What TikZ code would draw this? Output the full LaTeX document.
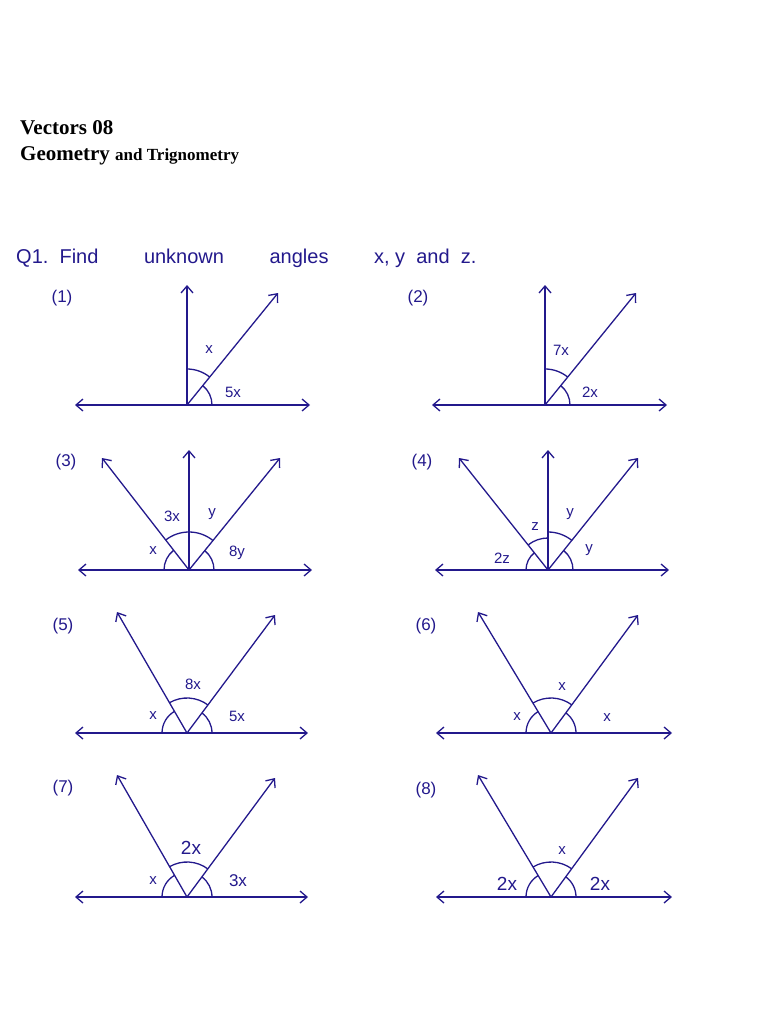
\documentclass[tikz,border=0pt]{standalone}
\usepackage{fontspec}
\setmainfont{Liberation Serif}
\newfontfamily\hand{Liberation Sans}
\usetikzlibrary{arrows.meta}
\definecolor{ink}{RGB}{35,25,140}
\tikzset{ln/.style={draw=ink,line width=1.3pt},
 ar/.style={ln,-{Straight Barb[length=7pt,width=12pt]}},
 both/.style={ln,{Straight Barb[length=7pt,width=12pt]}-{Straight Barb[length=7pt,width=12pt]}},
 lab/.style={text=ink,font=\hand\fontsize{15}{15}\selectfont,inner sep=0pt}}
\begin{document}
\begin{tikzpicture}[x=1pt,y=-1pt]
\useasboundingbox (0,0) rectangle (768,1024);
\node[anchor=west,inner sep=0pt,font=\bfseries\fontsize{21}{21}\selectfont] (t1) at (20,128) {Vectors 08};
\node[anchor=west,inner sep=0pt,font=\bfseries\fontsize{21}{21}\selectfont] (t2) at (20,156) {Geometry {\fontsize{17}{17}\selectfont and Trignometry}};
\node[anchor=west,inner sep=0pt,text=ink,font=\hand\fontsize{20}{20}\selectfont] (q) at (16,258) {Q1.\ \ Find\qquad\ unknown\qquad\ angles\qquad\ x,\ y\ \ and\ \ z.};
% numbers
\foreach \n/\x/\y in {1/62/298,2/418/298,3/66/462,4/422/462,5/63/626,6/426/626,7/63/788,8/426/790}
  \node[lab,font=\hand\fontsize{17}{17}\selectfont] (n\n) at (\x,\y) {(\n)};
% fig1
\coordinate (v1) at (187,405);
\draw[both] (75,405) -- (310,405);
\draw[ar] (v1) -- (187,285);
\draw[ar] (v1) -- (278,293);
\draw[ln] (v1) ++(0:25) arc (0:-51:25);
\draw[ln] (v1) ++(-51:36) arc (-51:-90:36);
\node[lab] (l1a) at (209,350) {x};
\node[lab] (l1b) at (233,392) {5x};
% fig2
\coordinate (v2) at (545,405);
\draw[both] (432,405) -- (667,405);
\draw[ar] (v2) -- (545,285);
\draw[ar] (v2) -- (636,293);
\draw[ln] (v2) ++(0:25) arc (0:-51:25);
\draw[ln] (v2) ++(-51:36) arc (-51:-90:36);
\node[lab] (l2a) at (561,350) {7x};
\node[lab] (l2b) at (590,392) {2x};
% fig3
\coordinate (v3) at (189,570);
\draw[both] (78,570) -- (312,570);
\draw[ar] (v3) -- (189,450);
\draw[ar] (v3) -- (280,458);
\draw[ar] (v3) -- (102,458);
\draw[ln] (v3) ++(0:25) arc (0:-51:25);
\draw[ln] (v3) ++(-51:38) arc (-51:-128:38);
\draw[ln] (v3) ++(-128:25) arc (-128:-180:25);
\node[lab] (l3a) at (172,516) {3x};
\node[lab] (l3b) at (212,514) {y};
\node[lab] (l3c) at (237,553) {8y};
\node[lab] (l3d) at (153,551) {x};
% fig4
\coordinate (v4) at (548,570);
\draw[both] (435,570) -- (669,570);
\draw[ar] (v4) -- (548,450);
\draw[ar] (v4) -- (638,458);
\draw[ar] (v4) -- (459,458);
\draw[ln] (v4) ++(0:25) arc (0:-51:25);
\draw[ln] (v4) ++(-51:38) arc (-51:-90:38);
\draw[ln] (v4) ++(-90:32) arc (-90:-128:32);
\draw[ln] (v4) ++(-128:22) arc (-128:-180:22);
\node[lab] (l4a) at (535,527) {z};
\node[lab] (l4b) at (570,514) {y};
\node[lab] (l4c) at (502,558) {2z};
\node[lab] (l4d) at (589,550) {y};
% fig5
\coordinate (v5) at (187,733);
\draw[both] (75,733) -- (308,733);
\draw[ar] (v5) -- (117,612);
\draw[ar] (v5) -- (275,615);
\draw[ln] (v5) ++(0:25) arc (0:-53:25);
\draw[ln] (v5) ++(-53:35) arc (-53:-120:35);
\draw[ln] (v5) ++(-120:25) arc (-120:-180:25);
\node[lab] (l5a) at (193,684) {8x};
\node[lab] (l5b) at (153,716) {x};
\node[lab] (l5c) at (237,716) {5x};
% fig6
\coordinate (v6) at (551,733);
\draw[both] (436,733) -- (672,733);
\draw[ar] (v6) -- (478,612);
\draw[ar] (v6) -- (638,615);
\draw[ln] (v6) ++(0:25) arc (0:-53.6:25);
\draw[ln] (v6) ++(-53.6:35) arc (-53.6:-121:35);
\draw[ln] (v6) ++(-121:25) arc (-121:-180:25);
\node[lab] (l6a) at (562,687) {x};
\node[lab] (l6b) at (517,717) {x};
\node[lab] (l6c) at (607,718) {x};
% fig7
\coordinate (v7) at (187,897);
\draw[both] (75,897) -- (308,897);
\draw[ar] (v7) -- (117,775);
\draw[ar] (v7) -- (275,778);
\draw[ln] (v7) ++(0:25) arc (0:-53:25);
\draw[ln] (v7) ++(-53:35) arc (-53:-120:35);
\draw[ln] (v7) ++(-120:25) arc (-120:-180:25);
\node[lab,font=\hand\fontsize{19}{19}\selectfont] (l7a) at (191,848) {2x};
\node[lab] (l7b) at (153,881) {x};
\node[lab,font=\hand\fontsize{17}{17}\selectfont] (l7c) at (238,881) {3x};
% fig8
\coordinate (v8) at (551,897);
\draw[both] (436,897) -- (672,897);
\draw[ar] (v8) -- (478,775);
\draw[ar] (v8) -- (638,778);
\draw[ln] (v8) ++(0:25) arc (0:-53.6:25);
\draw[ln] (v8) ++(-53.6:35) arc (-53.6:-121:35);
\draw[ln] (v8) ++(-121:25) arc (-121:-180:25);
\node[lab] (l8a) at (562,851) {x};
\node[lab,font=\hand\fontsize{19}{19}\selectfont] (l8b) at (507,884) {2x};
\node[lab,font=\hand\fontsize{19}{19}\selectfont] (l8c) at (600,884) {2x};
\end{tikzpicture}
\end{document}
